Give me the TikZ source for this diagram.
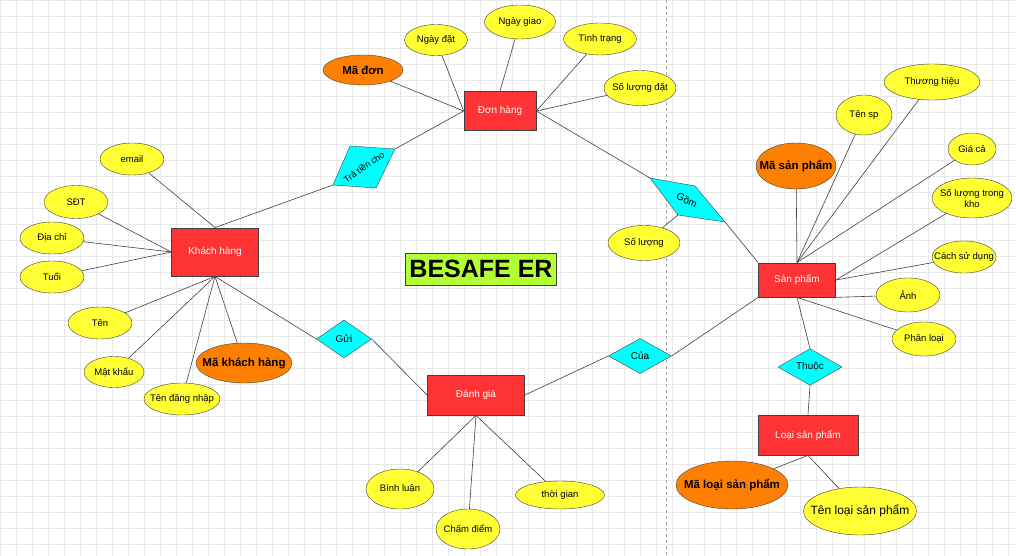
\documentclass[tikz,border=0pt]{standalone}
\usepackage{fontspec}
\setmainfont{Liberation Sans}
\usetikzlibrary{shapes.geometric}
\definecolor{aqua}{RGB}{0,255,255}
\definecolor{ylw}{RGB}{255,255,51}
\definecolor{org}{RGB}{255,128,0}
\definecolor{entred}{RGB}{255,51,51}
\definecolor{lime}{RGB}{179,255,51}
\begin{document}
\begin{tikzpicture}[x=1pt,y=-1pt,
  ent/.style={draw=black!75,fill=entred,text=white,font=\fontsize{10}{12}\selectfont,inner sep=0,line width=0.8pt},
  att/.style={ellipse,draw=black!75,fill=ylw,font=\fontsize{9.5}{11}\selectfont,inner xsep=-9pt,inner ysep=-3pt,align=center},
  key/.style={ellipse,draw=black!75,fill=org,font=\bfseries\fontsize{11.5}{14}\selectfont,inner xsep=-12pt,inner ysep=-3pt},
  rel/.style={diamond,draw=black!75,fill=aqua,font=\fontsize{10}{12}\selectfont,inner sep=0},
  ln/.style={draw=black!75,line width=0.6pt}]
\useasboundingbox (0,0) rectangle (1016,556);
\fill[white] (0,0) rectangle (1016,556);
\foreach \i in {0,16,...,1016} \draw[black!9,line width=0.5pt] (\i,0) -- (\i,556);
\foreach \j in {0,16,...,556} \draw[black!9,line width=0.5pt] (0,\j) -- (1016,\j);
\draw[black!35,dashed,line width=0.5pt] (666,0) -- (666,556);

\coordinate (tt1) at (350,146); \coordinate (tt2) at (395,149);
\coordinate (tt3) at (376,188); \coordinate (tt4) at (333,185);
\coordinate (g1) at (650,178); \coordinate (g2) at (695,186);
\coordinate (g3) at (725,222); \coordinate (g4) at (678,215);

% entities
\node[ent,minimum width=72,minimum height=39] (dh) at (500,111) {Đơn hàng};
\node[ent,minimum width=87,minimum height=48] (kh) at (215,252) {Khách hàng};
\node[ent,minimum width=97,minimum height=40] (dg) at (476,395) {Đánh giá};
\node[ent,minimum width=77,minimum height=34] (sp) at (797,280) {Sản phẩm};
\node[ent,minimum width=100,minimum height=40] (lsp) at (808,435) {Loại sản phẩm};
\node[draw=black!75,fill=lime,font=\bfseries\fontsize{25}{28}\selectfont,minimum width=151,minimum height=32,inner sep=0] (title) at (481,269) {BESAFE ER};

% relationships
\fill[aqua,draw=black!75] (tt1) -- (tt2) -- (tt3) -- (tt4) -- cycle;
\node[rotate=35,font=\fontsize{9}{11}\selectfont,inner sep=0] (tt) at (364,167) {Trả tiền cho};
\fill[aqua,draw=black!75] (g1) -- (g2) -- (g3) -- (g4) -- cycle;
\node[rotate=-25,font=\fontsize{10}{12}\selectfont,inner sep=0] (gom) at (687,200) {Gồm};
\node[rel,minimum width=55,minimum height=38] (gui) at (344,339) {Gửi};
\node[rel,minimum width=63,minimum height=35] (cua) at (640,356) {Của};
\node[rel,minimum width=64,minimum height=32] (thuoc) at (810,367) {Thuộc};

% attributes
\node[key,minimum width=80,minimum height=30] (madon) at (363,70) {Mã đơn};
\node[att,minimum width=63,minimum height=31] (ngaydat) at (436,40) {Ngày đặt};
\node[att,minimum width=71,minimum height=34] (ngaygiao) at (520,22) {Ngày giao};
\node[att,minimum width=73,minimum height=32] (tinhtrang) at (600,39) {Tình trạng};
\node[att,minimum width=72,minimum height=35] (sldat) at (640,88) {Số lượng đặt};
\node[att,minimum width=64,minimum height=32] (email) at (132,159) {email};
\node[att,minimum width=64,minimum height=33] (sdt) at (76,202) {SĐT};
\node[att,minimum width=64,minimum height=32] (diachi) at (52,238) {Địa chỉ};
\node[att,minimum width=64,minimum height=32] (tuoi) at (52,277) {Tuổi};
\node[att,minimum width=64,minimum height=32] (ten) at (100,323) {Tên};
\node[att,minimum width=60,minimum height=31] (matkhau) at (114,372) {Mật khẩu};
\node[att,minimum width=76,minimum height=32] (tendn) at (182,399) {Tên đăng nhập};
\node[key,minimum width=96,minimum height=40] (makh) at (244,363) {Mã khách hàng};
\node[key,minimum width=80,minimum height=46,inner xsep=-14pt] (masp) at (796,166) {Mã sản phẩm};
\node[att,minimum width=56,minimum height=40] (tensp) at (864,115) {Tên sp};
\node[att,minimum width=96,minimum height=36] (thuonghieu) at (932,82) {Thương hiệu};
\node[att,minimum width=48,minimum height=32] (giaca) at (972,149) {Giá cả};
\node[att,minimum width=80,minimum height=40,inner xsep=-6pt,inner ysep=-4pt] (slkho) at (972,198) {Số lượng trong\\kho};
\node[att,minimum width=64,minimum height=32] (cachsd) at (964,257) {Cách sử dụng};
\node[att,minimum width=64,minimum height=34] (anh) at (908,295) {Ảnh};
\node[att,minimum width=64,minimum height=34] (phanloai) at (924,339) {Phân loại};
\node[att,minimum width=72,minimum height=35] (soluong) at (644,243) {Số lượng};
\node[att,minimum width=68,minimum height=40] (binhluan) at (400,489) {Bình luận};
\node[att,minimum width=64,minimum height=40] (chamdiem) at (468,529) {Chấm điểm};
\node[att,minimum width=89,minimum height=28] (thoigian) at (560,495) {thời gian};
\node[key,minimum width=112,minimum height=48] (maloai) at (732,485) {Mã loại sản phẩm};
\node[att,minimum width=113,minimum height=48,font=\fontsize{12}{14}\selectfont,inner xsep=-14pt] (tenloai) at (860,511) {Tên loại sản phẩm};

\draw[ln] (madon) -- (dh.west);
\draw[ln] (ngaydat) -- (dh.west);
\draw[ln] (ngaygiao) -- (dh.north);
\draw[ln] (tinhtrang) -- (dh.east);
\draw[ln] (sldat) -- (dh.east);
\draw[ln] (dh.west) -- (tt2);
\draw[ln] (kh.north) -- (tt4);
\draw[ln] (dh.east) -- (g1);
\draw[ln] (g3) -- (sp.north west);
\draw[ln] (soluong) -- (g4);
\draw[ln] (email) -- (kh.north);
\draw[ln] (sdt) -- (kh.west);
\draw[ln] (diachi) -- (kh.west);
\draw[ln] (tuoi) -- (kh.west);
\draw[ln] (ten) -- (kh.south);
\draw[ln] (matkhau) -- (kh.south);
\draw[ln] (tendn) -- (kh.south);
\draw[ln] (makh) -- (kh.south);
\draw[ln] (kh.south) -- (gui.west);
\draw[ln] (gui.east) -- (dg.west);
\draw[ln] (dg.east) -- (cua.west);
\draw[ln] (cua.east) -- (sp.south west);
\draw[ln] (masp) -- (sp.north);
\draw[ln] (tensp) -- (sp.north);
\draw[ln] (thuonghieu) -- (sp.north);
\draw[ln] (giaca) -- (sp.north);
\draw[ln] (slkho) -- (sp.east);
\draw[ln] (cachsd) -- (sp.east);
\draw[ln] (anh) -- (sp.south east);
\draw[ln] (phanloai) -- (sp.south);
\draw[ln] (sp.south) -- (thuoc.north);
\draw[ln] (thuoc.south) -- (lsp.north);
\draw[ln] (maloai) -- (lsp.south);
\draw[ln] (tenloai) -- (lsp.south);
\draw[ln] (binhluan) -- (dg.south);
\draw[ln] (chamdiem) -- (dg.south);
\draw[ln] (thoigian) -- (dg.south);
\end{tikzpicture}
\end{document}
